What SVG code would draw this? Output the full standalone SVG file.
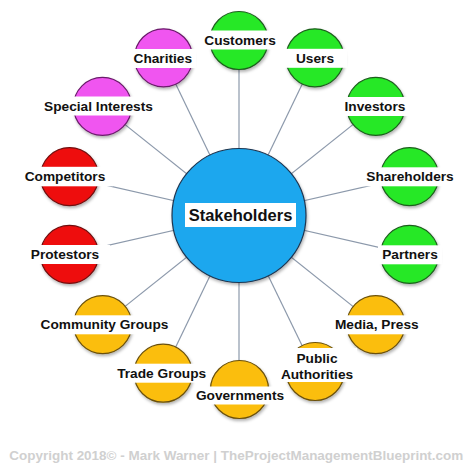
<svg xmlns="http://www.w3.org/2000/svg" width="474" height="474" viewBox="0 0 474 474">
<defs>
<filter id="sh" x="-30%" y="-30%" width="160%" height="160%">
<feDropShadow dx="1" dy="2" stdDeviation="1.5" flood-color="#000" flood-opacity="0.3"/>
</filter>
<style>
.c{stroke-width:1.2;filter:url(#sh)}
.g{fill:#25E825;stroke:#1d5e1d}
.o{fill:#FBBE0E;stroke:#6a5008}
.r{fill:#EE1111;stroke:#701010}
.m{fill:#F055F0;stroke:#6a1a6a}
.b{fill:#1AA7EE;stroke:#1c3550;stroke-width:1.2;filter:url(#sh)}
.band{fill:#fff}
.t{font-family:"Liberation Sans",Arial,sans-serif;font-weight:bold;font-size:13.7px;fill:#111;text-anchor:middle}
.ln{stroke:#8c99ab;stroke-width:1.2;fill:none}
</style>
</defs>
<rect width="474" height="474" fill="#fff"/>
<g id="connectors">
<line class="ln" x1="239" y1="215.5" x2="239" y2="40.5"/>
<line class="ln" x1="239" y1="215.5" x2="314.9" y2="57.8"/>
<line class="ln" x1="239" y1="215.5" x2="375.8" y2="106.4"/>
<line class="ln" x1="239" y1="215.5" x2="409.6" y2="176.6"/>
<line class="ln" x1="239" y1="215.5" x2="409.6" y2="254.4"/>
<line class="ln" x1="239" y1="215.5" x2="375.8" y2="324.6"/>
<line class="ln" x1="239" y1="215.5" x2="314.9" y2="372"/>
<line class="ln" x1="239" y1="215.5" x2="239" y2="390"/>
<line class="ln" x1="239" y1="215.5" x2="163.1" y2="373.2"/>
<line class="ln" x1="239" y1="215.5" x2="102.2" y2="324.6"/>
<line class="ln" x1="239" y1="215.5" x2="68.4" y2="254.4"/>
<line class="ln" x1="239" y1="215.5" x2="68.4" y2="176.6"/>
<line class="ln" x1="239" y1="215.5" x2="102.2" y2="106.4"/>
<line class="ln" x1="239" y1="215.5" x2="163.1" y2="57.8"/>
</g>
<g id="stakeholders">
<circle class="b" cx="239" cy="215.5" r="67"/>
<rect class="band" x="185" y="203" width="111" height="24"/>
<text class="t" x="240.5" y="221" style="font-size:16.5px">Stakeholders</text>
</g>
<g id="customers">
<circle class="c g" cx="239" cy="40.5" r="29"/>
<rect class="band" x="203" y="30.5" width="74" height="19"/>
<text class="t" x="240" y="44.5">Customers</text>
</g>
<g id="users">
<circle class="c g" cx="314.9" cy="57.8" r="29"/>
<rect class="band" x="283" y="48.8" width="64" height="19"/>
<text class="t" x="315" y="62.8">Users</text>
</g>
<g id="investors">
<circle class="c g" cx="375.8" cy="106.4" r="29"/>
<rect class="band" x="341" y="97" width="68" height="19"/>
<text class="t" x="375" y="111">Investors</text>
</g>
<g id="shareholders">
<circle class="c g" cx="409.6" cy="176.6" r="29"/>
<rect class="band" x="362" y="167.3" width="96" height="19"/>
<text class="t" x="410" y="181.3">Shareholders</text>
</g>
<g id="partners">
<circle class="c g" cx="409.6" cy="254.4" r="29"/>
<rect class="band" x="378" y="245.3" width="64" height="19"/>
<text class="t" x="410" y="259.3">Partners</text>
</g>
<g id="media-press">
<circle class="c o" cx="375.8" cy="324.6" r="29"/>
<rect class="band" x="331" y="315.3" width="92" height="19"/>
<text class="t" x="376.8" y="329.3">Media, Press</text>
</g>
<g id="public-authorities">
<circle class="c o" cx="315.2" cy="371.5" r="29"/>
<rect class="band" x="277" y="348" width="80" height="34"/>
<text class="t" x="317" y="363">Public</text>
<text class="t" x="317" y="379">Authorities</text>
</g>
<g id="governments">
<circle class="c o" cx="239.5" cy="389.5" r="29"/>
<rect class="band" x="193" y="386.5" width="94" height="18"/>
<text class="t" x="240" y="400">Governments</text>
</g>
<g id="trade-groups">
<circle class="c o" cx="163.1" cy="373.2" r="29"/>
<rect class="band" x="114" y="363.7" width="96" height="19"/>
<text class="t" x="161.7" y="377.7">Trade Groups</text>
</g>
<g id="community-groups">
<circle class="c o" cx="102.7" cy="324.6" r="29"/>
<rect class="band" x="37" y="315.3" width="135" height="19"/>
<text class="t" x="104.5" y="329.3">Community Groups</text>
</g>
<g id="protestors">
<circle class="c r" cx="69.5" cy="254.4" r="29"/>
<rect class="band" x="26" y="245" width="84" height="19"/>
<text class="t" x="65" y="259">Protestors</text>
</g>
<g id="competitors">
<circle class="c r" cx="69.5" cy="176.6" r="29"/>
<rect class="band" x="19" y="166.8" width="94" height="19.5"/>
<text class="t" x="65" y="180.8">Competitors</text>
</g>
<g id="special-interests">
<circle class="c m" cx="102.5" cy="106.4" r="29"/>
<rect class="band" x="40" y="96.5" width="117" height="19"/>
<text class="t" x="98.5" y="110.5">Special Interests</text>
</g>
<g id="charities">
<circle class="c m" cx="163.5" cy="57.8" r="29"/>
<rect class="band" x="131" y="49" width="65" height="19"/>
<text class="t" x="162.8" y="63">Charities</text>
</g>
<text x="9.3" y="460" font-family="Liberation Sans, Arial, sans-serif" font-weight="bold" font-size="13.4" fill="#d0d0d0" textLength="454" lengthAdjust="spacingAndGlyphs">Copyright 2018© - Mark Warner | TheProjectManagementBlueprint.com</text>
</svg>
